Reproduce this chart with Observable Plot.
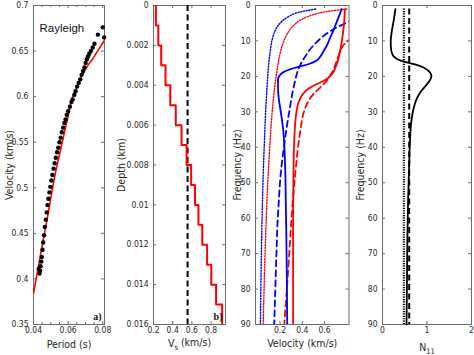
<!DOCTYPE html>
<html><head><meta charset="utf-8">
<script src="https://cdn.jsdelivr.net/npm/d3@7"></script>
<script src="https://cdn.jsdelivr.net/npm/@observablehq/plot@0.6"></script>
<style>
body{margin:0;background:#fff;}
#chart{position:relative;width:474px;height:355px;overflow:hidden;background:#fff;}
#chart svg{position:absolute;top:0;overflow:visible;}
</style></head><body><div id="chart"></div>
<script>
// ---------- Panel a: Rayleigh dispersion ----------
const obsPeriod = [0.0430,0.0435,0.0438,0.0441,0.0445,0.0448,0.0452,0.0456,0.0461,0.0465,0.0471,0.0476,0.0481,0.0486,0.0492,0.0497,0.0503,0.0509,0.0516,0.0522,0.0529,0.0536,0.0543,0.0550,0.0557,0.0564,0.0571,0.0578,0.0585,0.0592,0.0600,0.0610,0.0619,0.0626,0.0636,0.0643,0.0652,0.0661,0.0670,0.0678,0.0686,0.0694,0.0701,0.0708,0.0715,0.0722,0.0731,0.0742,0.0752,0.0772,0.0800,0.0808];
const obsVel    = [0.411,0.406,0.409,0.414,0.419,0.424,0.432,0.440,0.448,0.457,0.465,0.473,0.481,0.488,0.495,0.501,0.508,0.514,0.521,0.527,0.533,0.539,0.544,0.550,0.555,0.561,0.566,0.571,0.575,0.580,0.584,0.589,0.594,0.597,0.602,0.606,0.611,0.615,0.619,0.624,0.628,0.632,0.637,0.641,0.644,0.647,0.650,0.654,0.658,0.668,0.676,0.665];
const fitPeriod = [0.040,0.042,0.044,0.046,0.048,0.050,0.052,0.054,0.056,0.058,0.060,0.062,0.064,0.066,0.068,0.070,0.072,0.074,0.076,0.078,0.081];
const fitVel    = [0.384,0.405,0.426,0.447,0.467,0.489,0.510,0.528,0.545,0.562,0.579,0.596,0.606,0.615,0.623,0.630,0.636,0.641,0.647,0.653,0.662];
const aXTicks = [0.04,0.06,0.08];
const aXMinor = [0.045,0.05,0.055,0.065,0.07,0.075];
const aYTicks = [0.35,0.4,0.45,0.5,0.55,0.6,0.65,0.7];

// ---------- Panel b: Vs profile ----------
const layerTop = [0,0.001,0.002,0.003,0.004,0.005,0.006,0.007,0.008,0.009,0.010,0.011,0.012,0.013,0.014,0.015];
const layerThickness = 0.001;
const layerVs = [0.225,0.25,0.28,0.325,0.375,0.432,0.492,0.545,0.592,0.632,0.668,0.708,0.758,0.802,0.852,0.915];
const refVs = 0.555;
const bXTicks = [0.2,0.4,0.6,0.8];
const bYTicks = [0,0.002,0.004,0.006,0.008,0.01,0.012,0.014,0.016];

// ---------- Panel c: velocities vs frequency ----------
const blueSolidF = [1,3,5,7,9,11,13,14.5,15.5,16.5,17.2,18,18.8,19.8,21,23,26,30,34,39,45,55,65,75,90];
const blueSolidV = [0.755,0.73,0.705,0.68,0.652,0.625,0.59,0.56,0.53,0.46,0.38,0.29,0.23,0.195,0.182,0.182,0.188,0.207,0.225,0.238,0.246,0.252,0.257,0.261,0.265];
const blueDashF = [3.5,5,6,7.5,9,10.5,12,14,16,18,20,22,25,30,35,40,45,50,55,60,70,80,90];
const blueDashV = [0.86,0.79,0.72,0.64,0.575,0.525,0.48,0.435,0.395,0.365,0.345,0.33,0.31,0.283,0.257,0.235,0.215,0.2,0.19,0.18,0.168,0.158,0.148];
const redSolidF = [1,4,8,12,15,17,19,20.5,21.5,22.5,23.5,25,27,30,34,40,50,60,90];
const redSolidV = [0.783,0.778,0.765,0.745,0.725,0.705,0.675,0.63,0.575,0.51,0.455,0.405,0.37,0.348,0.335,0.326,0.32,0.318,0.318];
const redDashF = [9,10,11,13,15,17,19,21,23,25,27,30,35,40,45,50,55,60,70,80,90];
const redDashV = [0.85,0.81,0.775,0.74,0.715,0.695,0.665,0.625,0.565,0.5,0.455,0.415,0.385,0.362,0.345,0.33,0.316,0.304,0.283,0.262,0.238];
const blueDotF = [1,1.5,2,3,4,5,6,8,10,13,16,20,25,30,40,50,60,70,80,90];
const blueDotV = [0.52,0.43,0.36,0.285,0.235,0.2,0.175,0.145,0.127,0.112,0.1,0.09,0.08,0.071,0.058,0.047,0.039,0.033,0.028,0.024];
const redDotF = [1,1.5,2,3,4,5,6,8,10,13,16,20,25,30,40,50,60,70,80,90];
const redDotV = [0.80,0.66,0.57,0.46,0.39,0.345,0.31,0.265,0.235,0.205,0.185,0.165,0.145,0.13,0.108,0.09,0.077,0.066,0.057,0.049];
const cXTicks = [0.2,0.4,0.6];
const fTicks = [0,10,20,30,40,50,60,70,80,90];

// ---------- Panel d: N11 ----------
const n11F = [1,4,8,10,12,13.5,14.5,15.3,16,16.7,17.5,18.5,19.8,21,22.5,24,26,29,33,38,45,55,65,78,90];
const n11V = [0.29,0.255,0.2,0.185,0.19,0.215,0.26,0.36,0.53,0.75,0.92,1.04,1.1,1.07,0.98,0.88,0.78,0.7,0.645,0.618,0.6,0.575,0.56,0.55,0.54];
const n11Dotted = 0.48, n11Dashed = 0.6, n11Range = [1,90];
const dXTicks = [0,1,2];

// ---------- helpers ----------
const H = 355, TOP = 5, BOTTOM = 324, FH = BOTTOM - TOP;
const NARROW = '"Liberation Sans Narrow","Arial Narrow","DejaVu Sans Condensed",sans-serif';
const INK = "#262626", FRAME = "#6a6a6a";
const pairs = (xs, ys) => xs.map((v, i) => ({x: v, y: ys[i]}));

function axes(xt, yt, fw, minorX = []) {
  const TL = 3;
  return [
    Plot.tickX(xt, {x: d => d, insetTop: FH - TL, stroke: FRAME}),
    Plot.tickX(xt, {x: d => d, insetBottom: FH - TL, stroke: FRAME}),
    Plot.tickX(minorX, {x: d => d, insetTop: FH - 2, stroke: FRAME}),
    Plot.tickX(minorX, {x: d => d, insetBottom: FH - 2, stroke: FRAME}),
    Plot.tickY(yt, {y: d => d, insetRight: fw - TL, stroke: FRAME}),
    Plot.tickY(yt, {y: d => d, insetLeft: fw - TL, stroke: FRAME}),
    Plot.axisX(xt, {anchor: "bottom", tickSize: 0, tickPadding: 2, tickFormat: String, label: null}),
    Plot.axisY(yt, {anchor: "left", tickSize: 0, tickPadding: 5, tickFormat: String, label: null}),
    Plot.frame({stroke: FRAME, strokeWidth: 1})
  ];
}
function labels(fl, ylabX, ylab, xlabY, xlab) {
  return [
    Plot.text([ylab], {frameAnchor: "left", textAnchor: "middle", lineAnchor: "middle", rotate: -90, dx: ylabX - fl, fontSize: 10.5, fill: INK}),
    Plot.text([xlab], {frameAnchor: "bottom", textAnchor: "middle", lineAnchor: "middle", dy: xlabY - BOTTOM, fontSize: 10.5, fill: INK})
  ];
}
function place(o, marks) {
  const svg = Plot.plot({
    width: o.w, height: H,
    marginLeft: o.fl - o.left, marginRight: o.left + o.w - o.fr,
    marginTop: TOP, marginBottom: H - BOTTOM,
    x: o.x, y: o.y,
    style: {fontFamily: NARROW, fontSize: "8.5px", color: INK, background: "transparent", overflow: "visible"},
    marks
  });
  svg.style.left = o.left + "px";
  document.getElementById("chart").append(svg);
  return svg;
}
function subscript(svg, full, base, sub, rest) {
  svg.querySelectorAll("text").forEach(t => {
    if (t.textContent === full) {
      t.textContent = "";
      const ns = "http://www.w3.org/2000/svg";
      const a = document.createElementNS(ns, "tspan"); a.textContent = base;
      const b = document.createElementNS(ns, "tspan"); b.textContent = sub; b.setAttribute("dy", "0.35em"); b.setAttribute("font-size", "7.5");
      t.append(a, b);
      if (rest) { const c = document.createElementNS(ns, "tspan"); c.textContent = rest; c.setAttribute("dy", "-0.35em"); t.append(c); }
    }
  });
}
const tagFont = '"Liberation Serif","Times New Roman",serif';

// ---------- Panel a ----------
{
  const o = {left: 0, w: 112, fl: 33, fr: 104,
    x: {domain: [0.04, 0.081]}, y: {domain: [0.35, 0.7]}};
  place(o, [
    ...axes(aXTicks, aYTicks, o.fr - o.fl, aXMinor),
    Plot.line(pairs(fitPeriod, fitVel), {x: "x", y: "y", stroke: "#ff0000", strokeWidth: 1.6, curve: "monotone-x", clip: true}),
    Plot.dot(pairs(obsPeriod, obsVel), {x: "x", y: "y", r: 2.2, fill: "black", stroke: "none"}),
    Plot.text(["Rayleigh"], {frameAnchor: "top-left", dx: 6, dy: 18, fontFamily: '"Liberation Sans",Arial,sans-serif', fontSize: 11.5, fill: "#111"}),
    Plot.text(["a)"], {frameAnchor: "bottom-right", dx: -3, dy: -5, fontFamily: tagFont, fontWeight: "bold", fontSize: 10, fill: "#111"}),
    ...labels(33, 9, "Velocity (km/s)", 344, "Period (s)")
  ]);
}

// ---------- Panel b ----------
{
  const pts = [];
  layerTop.forEach((d, i) => { pts.push({x: layerVs[i], y: d}); pts.push({x: layerVs[i], y: d + layerThickness}); });
  const o = {left: 112, w: 120, fl: 153, fr: 225,
    x: {domain: [0.2, 0.95]}, y: {domain: [0, 0.016], reverse: true}};
  const svg = place(o, [
    ...axes(bXTicks, bYTicks, o.fr - o.fl),
    Plot.ruleX([refVs], {stroke: "black", strokeWidth: 2, strokeDasharray: "6,3.5"}),
    Plot.line(pts, {x: "x", y: "y", stroke: "#ff0000", strokeWidth: 2, clip: true}),
    Plot.text(["b)"], {frameAnchor: "bottom-right", dx: -3, dy: -5, fontFamily: tagFont, fontWeight: "bold", fontSize: 10, fill: "#111"}),
    ...labels(153, 121, "Depth (km)", 343, "Vs (km/s)")
  ]);
  subscript(svg, "Vs (km/s)", "V", "s", " (km/s)");
}

// ---------- Panel c ----------
{
  const o = {left: 232, w: 120, fl: 255, fr: 348.5,
    x: {domain: [-0.02, 0.82]}, y: {domain: [0, 90], reverse: true}};
  const L = (v, f, stroke, dash, sw) => Plot.line(pairs(v, f), {x: "x", y: "y", stroke, strokeWidth: sw, strokeDasharray: dash, curve: "monotone-y", clip: true});
  place(o, [
    ...axes(cXTicks, fTicks, o.fr - o.fl),
    L(blueDotV, blueDotF, "#0000ff", "1.2,1.6", 1.4),
    L(redDotV, redDotF, "#ff0000", "1.2,1.6", 1.4),
    L(blueDashV, blueDashF, "#0000ff", "6,4", 1.8),
    L(redDashV, redDashF, "#ff0000", "6,4", 1.8),
    L(blueSolidV, blueSolidF, "#0000ff", null, 1.8),
    L(redSolidV, redSolidF, "#ff0000", null, 1.8),
    ...labels(255, 237, "Frequency (Hz)", 343, "Velocity (km/s)")
  ]);
}

// ---------- Panel d ----------
{
  const o = {left: 352, w: 122, fl: 382, fr: 471,
    x: {domain: [0, 2]}, y: {domain: [0, 90], reverse: true}};
  const svg = place(o, [
    ...axes(dXTicks, fTicks, o.fr - o.fl),
    Plot.ruleX([n11Dotted], {y1: n11Range[0], y2: n11Range[1], stroke: "black", strokeWidth: 2.2, strokeDasharray: "1.2,1.2"}),
    Plot.ruleX([n11Dashed], {y1: n11Range[0], y2: n11Range[1], stroke: "black", strokeWidth: 2, strokeDasharray: "6,3.5"}),
    Plot.line(pairs(n11V, n11F), {x: "x", y: "y", stroke: "black", strokeWidth: 1.8, curve: "monotone-y"}),
    ...labels(382, 360, "Frequency (Hz)", 347, "N11")
  ]);
  subscript(svg, "N11", "N", "11", "");
}
</script></body></html>
